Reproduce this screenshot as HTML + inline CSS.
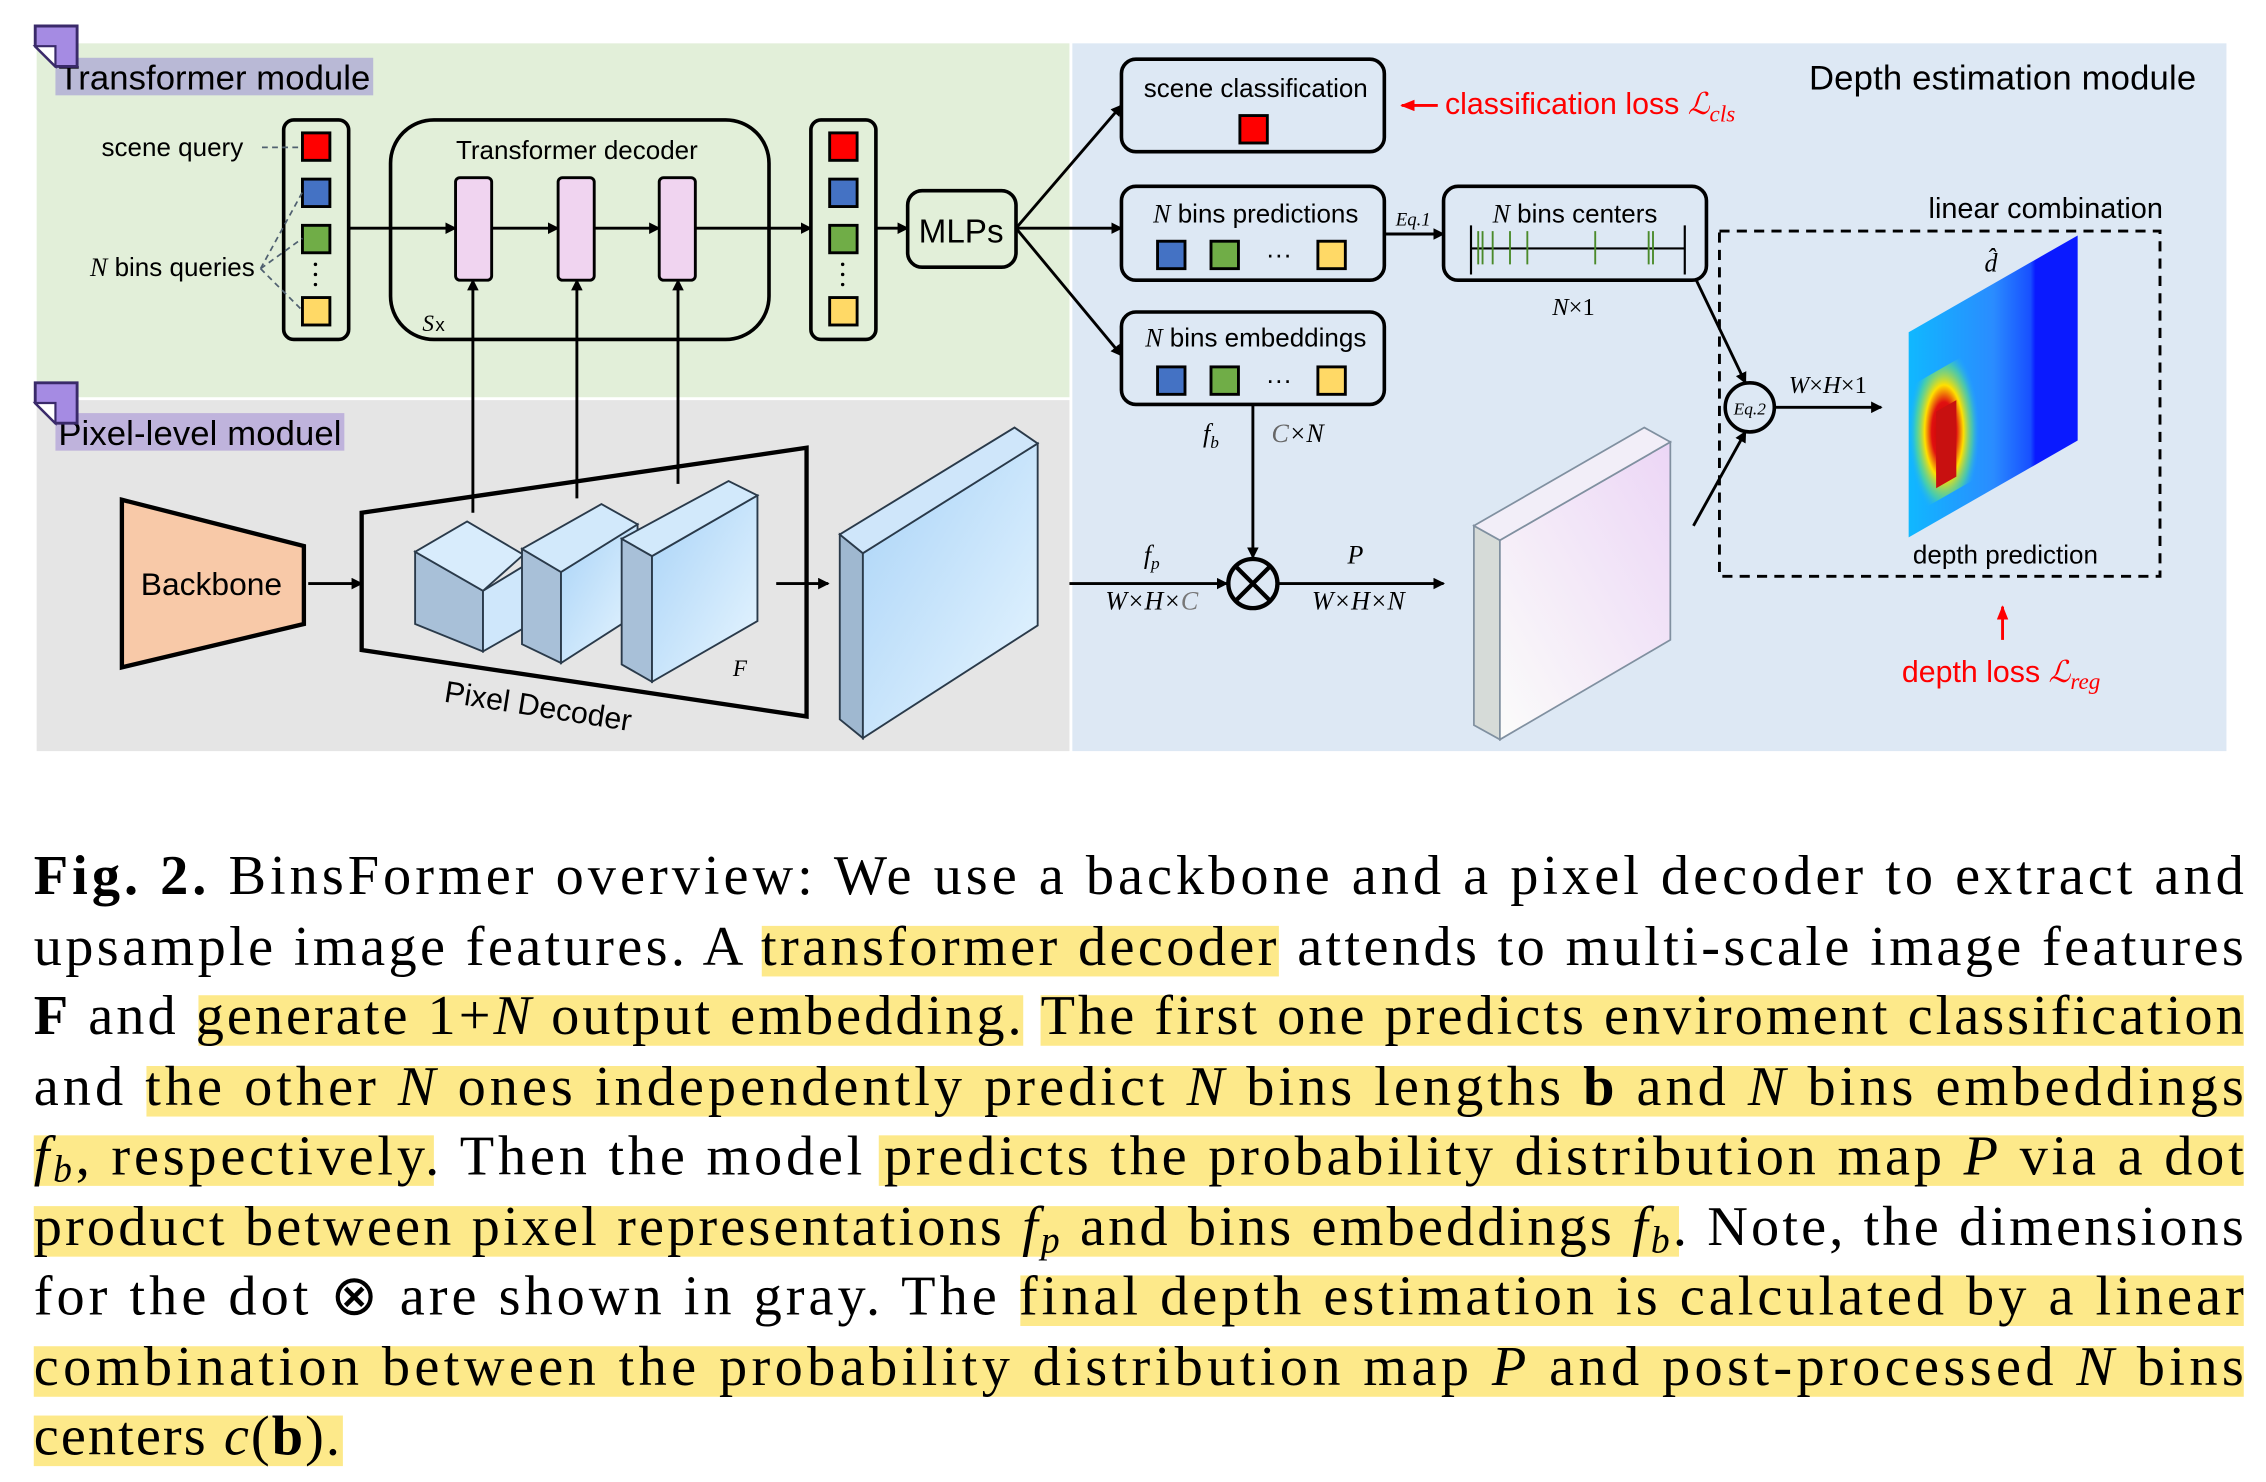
<!DOCTYPE html>
<html><head><meta charset="utf-8"><style>html,body{margin:0;padding:0;background:#fff}svg{display:block}
.s{font-family:"Liberation Sans",sans-serif}
.c{font-family:"Liberation Serif",serif;font-size:39px}
</style></head><body>
<svg width="2266" height="1482" viewBox="0 0 1568 1026" xmlns="http://www.w3.org/2000/svg">
<defs>
<marker id="a" markerWidth="8" markerHeight="8" refX="7" refY="4" orient="auto" markerUnits="userSpaceOnUse"><path d="M0,0L8,4L0,8z" fill="#000"/></marker>
<marker id="r" markerWidth="10" markerHeight="8" refX="9" refY="4" orient="auto" markerUnits="userSpaceOnUse"><path d="M0,0L10,4L0,8z" fill="#f00"/></marker>
<linearGradient id="bl" x1="0" y1="0" x2="1" y2="1"><stop offset="0" stop-color="#a9d3f7"/><stop offset="1" stop-color="#e8f6ff"/></linearGradient>
<linearGradient id="pk" x1="1" y1="0" x2="0" y2="1"><stop offset="0" stop-color="#ecd6f6"/><stop offset="1" stop-color="#fbfcfa"/></linearGradient>
<linearGradient id="dm" x1="0" y1="0" x2="1" y2="0"><stop offset="0" stop-color="#10b8ff"/><stop offset="0.5" stop-color="#2a8cff"/><stop offset="0.72" stop-color="#1850ff"/><stop offset="0.75" stop-color="#0a1aff"/><stop offset="1" stop-color="#0a1aff"/></linearGradient>
<radialGradient id="hot" cx="0.5" cy="0.5" r="0.5"><stop offset="0" stop-color="#c00000"/><stop offset="0.35" stop-color="#e01010"/><stop offset="0.55" stop-color="#ffe000"/><stop offset="0.8" stop-color="#60e080" stop-opacity="0.6"/><stop offset="1" stop-color="#20b0ff" stop-opacity="0"/></radialGradient>
</defs>
<rect x="25" y="30" width="715" height="245" fill="#e2efd9"/>
<rect x="25" y="277" width="715" height="243" fill="#e5e5e5"/>
<rect x="742" y="30" width="799" height="490" fill="#dde8f4"/>
<rect x="38" y="40" width="220" height="26" fill="#b9b9d6"/>
<text class="s" x="40" y="62" font-size="24" textLength="216">Transformer module</text>
<rect x="38" y="286" width="200" height="26" fill="#bfb3dc"/>
<text class="s" x="40" y="308" font-size="24" textLength="196">Pixel-level moduel</text>
<path d="M24,18H53V46H38L24,32Z" fill="#a58be3" stroke="#3a2a6a" stroke-width="2"/><path d="M24,32L38,46V32Z" fill="#fff" stroke="#3a2a6a" stroke-width="1.5"/>
<path d="M24,265H53V293H38L24,279Z" fill="#a58be3" stroke="#3a2a6a" stroke-width="2"/><path d="M24,279L38,293V279Z" fill="#fff" stroke="#3a2a6a" stroke-width="1.5"/>
<text class="s" x="1386" y="62" font-size="24" text-anchor="middle" textLength="268">Depth estimation module</text>

<g stroke="#000" stroke-width="2.5" fill="none"><rect x="196" y="83" width="45" height="152" rx="7"/><rect x="561" y="83" width="45" height="152" rx="7"/><rect x="270" y="83" width="262" height="152" rx="30"/><rect x="628" y="132" width="75" height="53" rx="10"/></g>
<g stroke="#000" stroke-width="2">
<rect x="209" y="92" width="19" height="19" fill="#f00"/><rect x="209" y="124" width="19" height="19" fill="#4472c4"/><rect x="209" y="156" width="19" height="19" fill="#70ad47"/><rect x="209" y="206" width="19" height="19" fill="#ffd966"/>
<rect x="574" y="92" width="19" height="19" fill="#f00"/><rect x="574" y="124" width="19" height="19" fill="#4472c4"/><rect x="574" y="156" width="19" height="19" fill="#70ad47"/><rect x="574" y="206" width="19" height="19" fill="#ffd966"/>
<rect x="315" y="123" width="25" height="71" rx="3" fill="#f0d4f0"/><rect x="386" y="123" width="25" height="71" rx="3" fill="#f0d4f0"/><rect x="456" y="123" width="25" height="71" rx="3" fill="#f0d4f0"/>
</g>
<g fill="#000"><circle cx="218" cy="183" r="1.2"/><circle cx="218" cy="190" r="1.2"/><circle cx="218" cy="197" r="1.2"/><circle cx="583" cy="183" r="1.2"/><circle cx="583" cy="190" r="1.2"/><circle cx="583" cy="197" r="1.2"/></g>
<text class="s" x="168" y="108" font-size="18" text-anchor="end">scene query</text>
<text class="s" x="176" y="191" font-size="18" text-anchor="end"><tspan font-style="italic" font-family="Liberation Serif">N</tspan> bins queries</text>
<g stroke="#506070" stroke-width="1.2" stroke-dasharray="4,3" fill="none"><path d="M181,102H209"/><path d="M180,186L209,133M180,186L209,165M180,186L209,215"/></g>
<text class="s" x="399" y="110" font-size="18" text-anchor="middle">Transformer decoder</text>
<text x="292" y="229" font-size="16" font-family="Liberation Serif" font-style="italic">S</text><text x="301" y="229" font-size="13" class="s">x</text>
<g stroke="#000" stroke-width="2" fill="none" marker-end="url(#a)">
<path d="M241,158H315"/><path d="M340,158H386"/><path d="M411,158H456"/><path d="M481,158H561"/><path d="M606,158H628"/>
<path d="M327,355V194"/><path d="M399,345V194"/><path d="M469,335V194"/>
<path d="M703,158L776,73"/><path d="M703,158H776"/><path d="M703,158L776,246"/>
<path d="M213,404H250"/><path d="M537,404H573"/>
<path d="M958,162H999"/>
<path d="M867,280V386"/><path d="M740,404H849"/><path d="M885,404H999"/>
<path d="M1174,194L1208,265"/><path d="M1172,364L1208,299"/><path d="M1229,282H1302"/>
</g>
<text class="s" x="665" y="168" font-size="23" text-anchor="middle">MLPs</text>

<polygon points="84,346 210,378 210,432 84,462" fill="#f8c9a8" stroke="#000" stroke-width="3"/>
<text class="s" x="146" y="412" font-size="22" text-anchor="middle">Backbone</text>
<polygon points="250,355 558,310 558,496 250,450" fill="none" stroke="#000" stroke-width="3"/>
<text class="s" x="372" y="496" font-size="21" text-anchor="middle" transform="rotate(9 372 490)">Pixel Decoder</text>
<g stroke="#2a3a4a" stroke-width="1.3">
<polygon points="287,382 334,409 334,451 287,432" fill="#a8c0d8"/><polygon points="334,409 362,392 362,435 334,451" fill="#cfe7fb"/><polygon points="287,382 323,361 362,384 334,409" fill="#d8ecfc"/>
<polygon points="361,380 388,396 388,459 361,446" fill="#a8c0d8"/><polygon points="388,396 441,363 441,425 388,459" fill="url(#bl)"/><polygon points="361,380 416,349 441,363 388,396" fill="#d2e9fb"/>
<polygon points="430,373 451,385 451,472 430,460" fill="#a8c0d8"/><polygon points="451,385 524,343 524,430 451,472" fill="url(#bl)"/><polygon points="430,373 504,333 524,343 451,385" fill="#d2e9fb"/>
<polygon points="581,370 597,383 597,511 581,498" fill="#9fb8d0"/><polygon points="597,383 718,307 718,433 597,511" fill="url(#bl)"/><polygon points="581,370 702,296 718,307 597,383" fill="#cfe6fa"/>
</g>
<text x="507" y="468" font-size="16" font-family="Liberation Serif" font-style="italic">F</text>
<g stroke="#8090a0" stroke-width="1.2">
<polygon points="1020,364 1038,374 1038,512 1020,502" fill="#d6dbd8"/><polygon points="1038,374 1156,306 1156,443 1038,512" fill="url(#pk)"/><polygon points="1020,364 1138,296 1156,306 1038,374" fill="#f2eef8"/>
</g>

<g stroke="#000" stroke-width="2.5" fill="none"><rect x="776" y="41" width="182" height="64" rx="10"/><rect x="776" y="129" width="182" height="65" rx="10"/><rect x="776" y="216" width="182" height="64" rx="10"/><rect x="999" y="129" width="182" height="65" rx="10"/></g>
<text class="s" x="869" y="67" font-size="18" text-anchor="middle">scene classification</text>
<text class="s" x="869" y="154" font-size="18" text-anchor="middle"><tspan font-family="Liberation Serif" font-style="italic">N</tspan> bins predictions</text>
<text class="s" x="869" y="240" font-size="18" text-anchor="middle"><tspan font-family="Liberation Serif" font-style="italic">N</tspan> bins embeddings</text>
<text class="s" x="1090" y="154" font-size="18" text-anchor="middle"><tspan font-family="Liberation Serif" font-style="italic">N</tspan> bins centers</text>
<g stroke="#000" stroke-width="2">
<rect x="858" y="80" width="19" height="19" fill="#f00"/>
<rect x="801" y="167" width="19" height="19" fill="#4472c4"/><rect x="838" y="167" width="19" height="19" fill="#70ad47"/><rect x="912" y="167" width="19" height="19" fill="#ffd966"/>
<rect x="801" y="254" width="19" height="19" fill="#4472c4"/><rect x="838" y="254" width="19" height="19" fill="#70ad47"/><rect x="912" y="254" width="19" height="19" fill="#ffd966"/>
</g>
<text class="s" x="885" y="182" font-size="18" text-anchor="middle">···</text><text class="s" x="885" y="269" font-size="18" text-anchor="middle">···</text>
<g stroke="#000" stroke-width="1.5"><path d="M1018,172H1166M1018,156V190M1166,156V190"/></g>
<g stroke="#4a8a2a" stroke-width="1.3"><path d="M1023,160V183M1026,160V183M1033,160V183M1045,160V183M1057,160V183M1104,160V183M1141,160V183M1144,160V183"/></g>
<text x="978" y="156" font-size="13" font-family="Liberation Serif" font-style="italic" text-anchor="middle">Eq.1</text>
<text x="1089" y="218" font-size="17" font-family="Liberation Serif" text-anchor="middle"><tspan font-style="italic">N</tspan>×1</text>
<path d="M995,73H970" stroke="#f00" stroke-width="2" marker-end="url(#r)"/>
<text class="s" x="1000" y="79" font-size="21" fill="#f00">classification loss <tspan font-family="Liberation Serif" font-style="italic">ℒ</tspan><tspan font-family="Liberation Serif" font-style="italic" font-size="16" dy="5">cls</tspan></text>
<rect x="1190" y="160" width="305" height="239" fill="none" stroke="#000" stroke-width="2" stroke-dasharray="7,5"/>
<text class="s" x="1497" y="151" font-size="20" text-anchor="end">linear combination</text>
<circle cx="1211" cy="282" r="17" fill="none" stroke="#000" stroke-width="2.5"/>
<text x="1211" y="287" font-size="12" font-family="Liberation Serif" font-style="italic" text-anchor="middle">Eq.2</text>
<text x="1265" y="272" font-size="17" font-family="Liberation Serif" text-anchor="middle"><tspan font-style="italic">W</tspan>×<tspan font-style="italic">H</tspan>×1</text>
<polygon points="1321,230 1438,163 1438,305 1321,372" fill="url(#dm)"/>
<polygon points="1321,268 1370,240 1370,330 1321,358" fill="url(#hot)"/>
<polygon points="1340,285 1354,277 1354,330 1340,338" fill="#c81010"/>
<text x="1378" y="188" font-size="18" font-family="Liberation Serif" font-style="italic" text-anchor="middle">d̂</text>
<text class="s" x="1388" y="390" font-size="18" text-anchor="middle">depth prediction</text>
<path d="M1386,443V420" stroke="#f00" stroke-width="2" marker-end="url(#r)"/>
<text class="s" x="1385" y="472" font-size="21" fill="#f00" text-anchor="middle">depth loss <tspan font-family="Liberation Serif" font-style="italic">ℒ</tspan><tspan font-family="Liberation Serif" font-style="italic" font-size="16" dy="5">reg</tspan></text>
<circle cx="867" cy="404" r="17" fill="none" stroke="#000" stroke-width="3"/><path d="M855,392L879,416M879,392L855,416" stroke="#000" stroke-width="3"/>
<g font-family="Liberation Serif" font-style="italic" font-size="18" text-anchor="middle">
<text x="838" y="306">f<tspan font-size="12" dy="4">b</tspan></text>
<text x="898" y="306" fill="#666">C<tspan fill="#000">×N</tspan></text>
<text x="797" y="390">f<tspan font-size="12" dy="4">p</tspan></text>
<text x="797" y="422">W×H×<tspan fill="#777">C</tspan></text>
<text x="938" y="390">P</text>
<text x="940" y="422">W×H×N</text>
</g>

<g fill="#fde98a">
<rect x="527" y="641" width="358" height="35"/>
<rect x="137" y="689" width="571" height="35"/><rect x="720" y="689" width="833" height="35"/>
<rect x="101" y="738" width="1452" height="35"/>
<rect x="23" y="786" width="277" height="35"/><rect x="608" y="786" width="945" height="35"/>
<rect x="23" y="835" width="1139" height="35"/>
<rect x="706" y="883" width="847" height="35"/>
<rect x="23" y="932" width="1530" height="35"/>
<rect x="23" y="980" width="214" height="35"/>
</g>
<g class="c">
<text x="23" y="619" textLength="1530" lengthAdjust="spacing"><tspan font-weight="bold">Fig. 2.</tspan> BinsFormer overview: We use a backbone and a pixel decoder to extract and</text>
<text x="23" y="668" textLength="1530" lengthAdjust="spacing">upsample image features. A transformer decoder attends to multi-scale image features</text>
<text x="23" y="716" textLength="1530" lengthAdjust="spacing"><tspan font-weight="bold">F</tspan> and generate 1+<tspan font-style="italic">N</tspan> output embedding. The first one predicts enviroment classification</text>
<text x="23" y="765" textLength="1530" lengthAdjust="spacing">and the other <tspan font-style="italic">N</tspan> ones independently predict <tspan font-style="italic">N</tspan> bins lengths <tspan font-weight="bold">b</tspan> and <tspan font-style="italic">N</tspan> bins embeddings</text>
<text x="23" y="813" textLength="1530" lengthAdjust="spacing"><tspan font-style="italic">f</tspan><tspan font-style="italic" font-size="26" dy="5">b</tspan><tspan dy="-5">, respectively. Then the model predicts the probability distribution map </tspan><tspan font-style="italic">P</tspan> via a dot</text>
<text x="23" y="862" textLength="1530" lengthAdjust="spacing">product between pixel representations <tspan font-style="italic">f</tspan><tspan font-style="italic" font-size="26" dy="5">p</tspan><tspan dy="-5"> and bins embeddings </tspan><tspan font-style="italic">f</tspan><tspan font-style="italic" font-size="26" dy="5">b</tspan><tspan dy="-5">. Note, the dimensions</tspan></text>
<text x="23" y="910" textLength="1530" lengthAdjust="spacing">for the dot ⊗ are shown in gray. The final depth estimation is calculated by a linear</text>
<text x="23" y="959" textLength="1530" lengthAdjust="spacing">combination between the probability distribution map <tspan font-style="italic">P</tspan> and post-processed <tspan font-style="italic">N</tspan> bins</text>
<text x="23" y="1007" textLength="212" lengthAdjust="spacing">centers <tspan font-style="italic">c</tspan>(<tspan font-weight="bold">b</tspan>).</text>
</g>
</svg>
</body></html>
